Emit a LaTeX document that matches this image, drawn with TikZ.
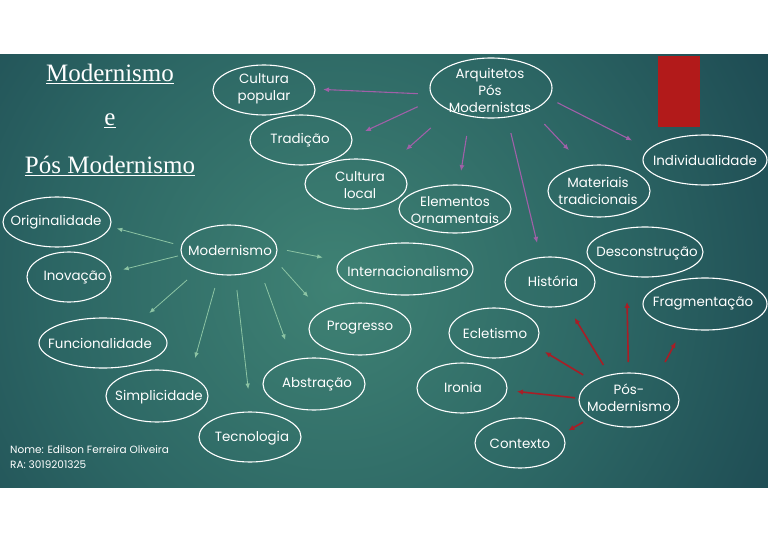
\documentclass[tikz,border=0pt]{standalone}
\usepackage{fontspec}
\setmainfont{Liberation Serif}
\newfontfamily\nodefont{Poppins}
\usetikzlibrary{shapes.geometric,arrows.meta}
\definecolor{bgin}{HTML}{3F8274}
\definecolor{bgmid}{HTML}{2C6664}
\definecolor{bgout}{HTML}{173E4B}
\definecolor{arqcol}{HTML}{A060A8}
\definecolor{modcol}{HTML}{8CC4A4}
\definecolor{pmcol}{HTML}{A81E26}
\definecolor{boxred}{HTML}{B21A1A}
\pgfdeclareradialshading{bgshade}{\pgfpoint{0bp}{0bp}}{color(0bp)=(bgin); color(14bp)=(bgmid); color(30bp)=(bgout); color(50bp)=(bgout)}
\tikzset{
  ell/.style 2 args={ellipse, draw=white, line width=1.1pt, inner sep=0pt, outer sep=0pt,
    minimum width={2*#1}, minimum height={2*#2}},
  txt/.style={text=white, align=center, inner sep=0pt, font={\nodefont\fontsize{13.4}{17}\selectfont}},
  ttl/.style={text=white, inner sep=0pt, font={\fontsize{25}{30}\selectfont}},
  foot/.style={text=white, align=left, inner sep=0pt, anchor=north west, font={\nodefont\fontsize{10.5}{15}\selectfont}},
  arqarr/.style={draw=arqcol, line width=1.1pt, -{Latex[length=6pt,width=5pt]}},
  modarr/.style={draw=modcol, line width=0.8pt, -{Latex[length=5.5pt,width=4.5pt]}},
  pmarr/.style={draw=pmcol, line width=1.6pt, -{Latex[length=6pt,width=5.5pt]}},
}
\begin{document}
\begin{tikzpicture}[x=1pt,y=-1pt]
\useasboundingbox (0,0) rectangle (768,543);
\fill[white] (0,0) rectangle (768,543);
\begin{scope}
  \clip (0,55) rectangle (768,487);
  \shade[shading=bgshade] (335,285) circle (500);
\end{scope}
\fill[boxred] (658,56) rectangle (700,127);

% title
\node[ttl] (t1) at (110,74) {\underline{Modernismo}};
\node[ttl] (t2) at (110,121) {\underline{e}};
\node[ttl] (t3) at (110,166) {\underline{Pós Modernismo}};

% ellipses
\node[ell={51}{25}] (cpop) at (264,90) {};
\node[ell={51}{25}] (trad) at (301,140) {};
\node[ell={51}{25}] (cloc) at (356,184) {};
\node[ell={56}{24}] (elem) at (455,209) {};
\node[ell={61}{30}] (arq) at (491,88) {};
\node[ell={62}{25}] (ind) at (705,160) {};
\node[ell={51}{26}] (mat) at (599,191) {};
\node[ell={58}{25}] (desc) at (645,252) {};
\node[ell={62}{26}] (frag) at (705,304) {};
\node[ell={45}{25}] (hist) at (550,282) {};
\node[ell={45}{25}] (ecl) at (494,333) {};
\node[ell={45}{25}] (iro) at (462,388) {};
\node[ell={45}{25}] (cont) at (520,443) {};
\node[ell={50}{27}] (pm) at (629,400) {};
\node[ell={68}{26}] (int) at (405,269) {};
\node[ell={51}{26}] (prog) at (360,329) {};
\node[ell={51}{26}] (abs) at (314,384) {};
\node[ell={51}{25}] (tec) at (250,437) {};
\node[ell={51}{26}] (simp) at (157,396) {};
\node[ell={64}{25}] (func) at (103,343) {};
\node[ell={48}{25}] (mod) at (229,250) {};
\node[ell={54}{25}] (orig) at (57,222) {};
\node[ell={42}{25}] (inov) at (69,277) {};

% texts
\node[txt] (cpop-t) at (264,89) {Cultura\\popular};
\node[txt] (trad-t) at (300,140) {Tradição};
\node[txt] (cloc-t) at (360,185) {Cultura\\local};
\node[txt] (elem-t) at (455,210) {Elementos\\Ornamentais};
\node[txt] (arq-t) at (490,90) {Arquitetos\\Pós\\Modernistas};
\node[txt] (ind-t) at (705,160) {Individualidade};
\node[txt] (mat-t) at (598,191) {Materiais\\tradicionais};
\node[txt] (desc-t) at (647,253) {Desconstrução};
\node[txt] (frag-t) at (703,304) {Fragmentação};
\node[txt] (hist-t) at (553,281) {História};
\node[txt] (ecl-t) at (495,333) {Ecletismo};
\node[txt] (iro-t) at (463,387) {Ironia};
\node[txt] (cont-t) at (520,444) {Contexto};
\node[txt] (pm-t) at (629,398) {Pós-\\Modernismo};
\node[txt] (int-t) at (408,271) {Internacionalismo};
\node[txt] (prog-t) at (360,328) {Progresso};
\node[txt] (abs-t) at (317,384) {Abstração};
\node[txt] (tec-t) at (252,438) {Tecnologia};
\node[txt] (simp-t) at (159,397) {Simplicidade};
\node[txt] (func-t) at (100,343) {Funcionalidade};
\node[txt] (mod-t) at (230,250) {Modernismo};
\node[txt] (orig-t) at (56,222) {Originalidade};
\node[txt] (inov-t) at (75,277) {Inovação};

% footer
\node[foot] (foot) at (10,445) {Nome: Edilson Ferreira Oliveira\\RA: 3019201325};

% Arquitetos arrows
\draw[arqarr, shorten <=13.6pt, shorten >=8.1pt] (arq.186.4) -- (cpop.1.6);
\draw[arqarr, shorten <=18.3pt, shorten >=14.6pt] (arq.191.5) -- (trad.3.3);
\draw[arqarr, shorten <=26.4pt, shorten >=22.6pt] (arq.209.3) -- (cloc.30);
\draw[arqarr, shorten <=20.1pt, shorten >=14.2pt] (arq.233.9) -- (elem.81.5);
\draw[arqarr, shorten <=16.6pt, shorten >=15pt] (arq.299.3) -- (hist.111.4);
\draw[arqarr, shorten <=18.8pt, shorten >=22pt] (arq.331.8) -- (mat.121.3);
\draw[arqarr, shorten <=10.1pt, shorten >=19.1pt] (arq.350.9) -- (ind.169.8);

% Modernismo arrows
\draw[modarr, shorten <=8.8pt, shorten >=7pt] (mod.175.7) -- (orig.355.6);
\draw[modarr, shorten <=4.1pt, shorten >=13.2pt] (mod.186.1) -- (inov.6.9);
\draw[modarr, shorten <=15.9pt, shorten >=14pt] (mod.213.1) -- (func.30.4);
\draw[modarr, shorten <=14.2pt, shorten >=18.8pt] (mod.247.4) -- (simp.31.2);
\draw[modarr, shorten <=15.3pt, shorten >=23.1pt] (mod.284.3) -- (tec.88.8);
\draw[modarr, shorten <=14.8pt, shorten >=21.7pt] (mod.328.5) -- (abs.132.9);
\draw[modarr, shorten <=11.6pt, shorten >=20pt] (mod.349.7) -- (prog.156.5);
\draw[modarr, shorten <=10.3pt, shorten >=17.9pt] (mod.2.7) -- (int.173.9);

% Pos-Modernismo arrows
\draw[pmarr, shorten <=4.2pt, shorten >=10.2pt] (pm.178.3) -- (iro.357.7);
\draw[pmarr, shorten <=11.9pt, shorten >=13.5pt] (pm.152.3) -- (ecl.343.1);
\draw[pmarr, shorten <=11.9pt, shorten >=15pt] (pm.128.7) -- (hist.306.8);
\draw[pmarr, shorten <=11pt, shorten >=26.2pt] (pm.91.7) -- (desc.232.3);
\draw[pmarr, shorten <=17.6pt, shorten >=15.5pt] (pm.39.4) -- (frag.228.6);
\draw[pmarr, shorten <=9.3pt, shorten >=7.3pt] (pm.205) -- (cont.12.9);
\end{tikzpicture}
\end{document}
